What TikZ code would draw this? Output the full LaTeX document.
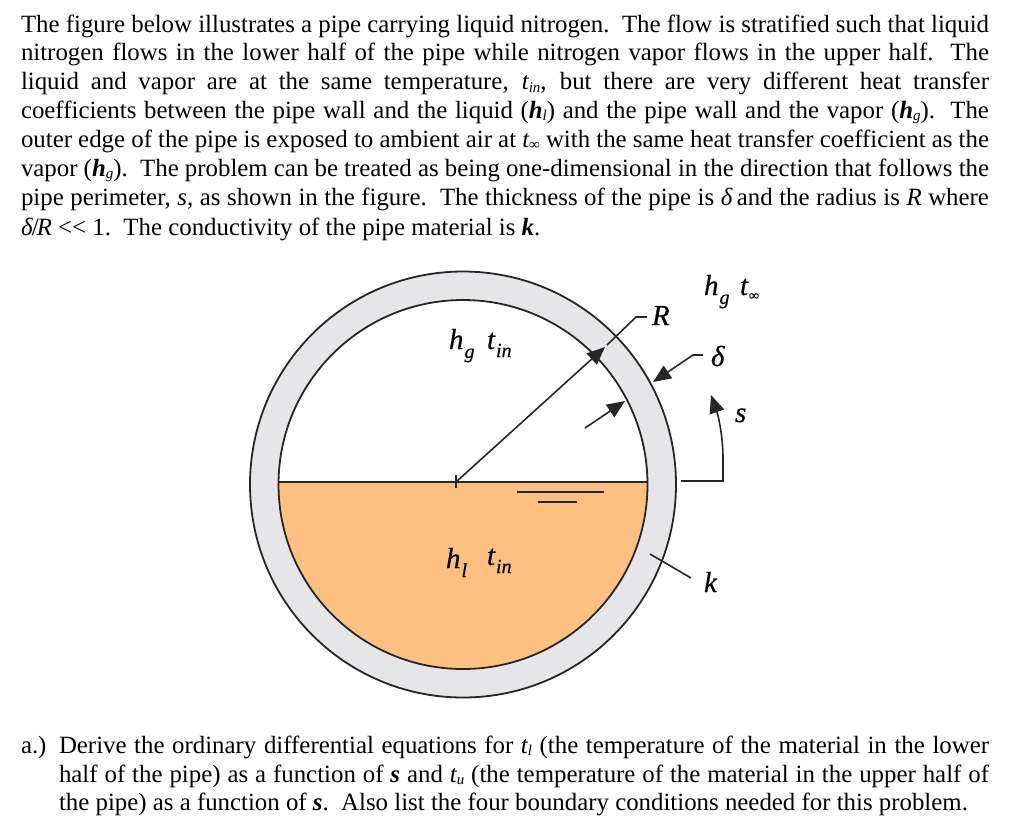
\documentclass[tikz,border=0pt]{standalone}
\usepackage{fontspec}
\setmainfont{Liberation Serif}
\newfontface\labface[FakeBold=0.5]{Liberation Serif Italic}
\usetikzlibrary{arrows.meta}
\definecolor{liquid}{RGB}{253,192,128}
\definecolor{wall}{RGB}{230,230,232}
\newcommand{\lowsub}[1]{\raisebox{-2.5pt}{\fontsize{15}{15}\selectfont #1}}
\newcommand{\tin}{\textit{t\lowsub{in}}}
\newcommand{\tinf}{\textit{t\lowsub{∞}}}
\newcommand{\hl}{\textbf{\textit{h}}\textit{\lowsub{l}}}
\newcommand{\hg}{\textbf{\textit{h}}\textit{\lowsub{g}}}
\newcommand{\fillline}[1]{\makebox[968pt][s]{#1}}
\newcommand{\subline}[1]{\makebox[930pt][s]{#1}}
\tikzset{
  x=1pt,y=-1pt,
  txt/.style={anchor=base west,inner sep=0pt,outer sep=0pt,font=\fontsize{24.85}{29}\selectfont},
  lab/.style={anchor=base west,inner sep=0pt,outer sep=0pt,font=\fontsize{29}{30}\labface},
  labsub/.style={anchor=base west,inner sep=0pt,outer sep=0pt,font=\fontsize{20}{20}\labface},
  pipe/.style={draw=black!85,line width=1.8pt},
  lead/.style={draw=black!85,line width=1.6pt},
  tip/.style={lead,-{Triangle[length=18pt,width=15pt]}}
}
\begin{document}
\begin{tikzpicture}
\useasboundingbox[fill=white] (0,0) rectangle (1024,820);
% text
\node[txt] (l1) at (21,32.5) {\fillline{The figure below illustrates a pipe carrying liquid nitrogen.\ \ The flow is stratified such that liquid}};
\node[txt] (l2) at (21,60.5) {\fillline{nitrogen flows in the lower half of the pipe while nitrogen vapor flows in the upper half.\ \ The}};
\node[txt] (l3) at (21,89.5) {\fillline{liquid and vapor are at the same temperature, \tin, but there are very different heat transfer}};
\node[txt] (l4) at (21,118) {\fillline{coefficients between the pipe wall and the liquid (\hl) and the pipe wall and the vapor (\hg).\ \ The}};
\node[txt] (l5) at (21,147) {\fillline{outer edge of the pipe is exposed to ambient air at \tinf{} with the same heat transfer coefficient as the}};
\node[txt] (l6) at (21,176) {\fillline{vapor (\hg).\ \ The problem can be treated as being one-dimensional in the direction that follows the}};
\node[txt] (l7) at (21,205.5) {\fillline{pipe perimeter, \textit{s}, as shown in the figure.\ \ The thickness of the pipe is \textit{δ}\,and the radius is \textit{R} where}};
\node[txt] (l8) at (21,235.5) {\textit{δ}\kern-1pt/\kern-2pt\textit{R} {<}{<} 1.\ \ The conductivity of the pipe material is \textbf{\textit{k}}.};
\node[txt] (a1) at (21,753) {a.)};
\node[txt] (a2) at (59,753) {\subline{Derive the ordinary differential equations for \textit{t\lowsub{l}} (the temperature of the material in the lower}};
\node[txt] (a3) at (59,782) {\subline{half of the pipe) as a function of \textbf{\textit{s}} and \textit{t\lowsub{u}} (the temperature of the material in the upper half of}};
\node[txt] (a4) at (59,810) {the pipe) as a function of \textbf{\textit{s}}.\ \ Also list the four boundary conditions needed for this problem.};
% pipe
\coordinate (c) at (463,484.5);
\fill[wall] (c) circle[radius=213];
\fill[white] (c) circle[radius=184.5];
\begin{scope}
\clip (c) circle[radius=184.5];
\fill[liquid] (270,482) rectangle (660,680);
\end{scope}
\draw[pipe] (c) circle[radius=213];
\draw[pipe] (c) circle[radius=184.5];
\coordinate (sl) at (279,482);
\coordinate (sr) at (647,482);
\draw[pipe] (sl) -- (sr);
% water level
\coordinate (w1a) at (517,492); \coordinate (w1b) at (604,492);
\coordinate (w2a) at (538,502); \coordinate (w2b) at (577,502);
\draw[lead] (w1a) -- (w1b);
\draw[lead] (w2a) -- (w2b);
% radius
\coordinate (ctr) at (456,482);
\coordinate (rt) at (605,347);
\coordinate (ta) at (456,475); \coordinate (tb) at (456,488);
\draw[lead] (ta) -- (tb);
\draw[tip] (ctr) -- (rt);
\coordinate (r1) at (607,345); \coordinate (r2) at (636,317); \coordinate (r3) at (647,317);
\draw[lead] (r1) -- (r2) -- (r3);
% delta
\coordinate (d1) at (703,355); \coordinate (d2) at (693,355); \coordinate (d3) at (653,382);
\draw[tip] (d1) -- (d2) -- (d3);
\coordinate (e1) at (585,428); \coordinate (e2) at (625,401);
\draw[tip] (e1) -- (e2);
% s
\coordinate (s1) at (681,481); \coordinate (s2) at (723,481); \coordinate (s3) at (711,395);
\draw[tip] (s1) -- (s2) -- ++(0,-22) .. controls (723,435) and (718,415) .. (s3);
% k
\coordinate (k1) at (650,554); \coordinate (k2) at (691,578);
\draw[lead] (k1) -- (k2);
% labels
\node[lab] (hg1) at (449,349) {h};
\node[labsub] (hg1s) at (464.5,358) {g};
\node[lab] (t1) at (487,349) {t};
\node[labsub] (t1s) at (496,357) {in};
\node[lab] (hg2) at (704,295) {h};
\node[labsub] (hg2s) at (719.5,304) {g};
\node[lab] (t2) at (740,295) {t};
\node[labsub] (t2s) at (749,300) {\fontsize{14}{14}\labface ∞};
\node[lab] (hl1) at (446,568) {h};
\node[labsub] (hl1s) at (461.5,577) {l};
\node[lab] (t3) at (487,565) {t};
\node[labsub] (t3s) at (496,573) {in};
\node[lab] (R) at (652,325) {R};
\node[lab] (dl) at (711,366) {δ};
\node[lab] (s) at (735,422) {s};
\node[lab] (k) at (704,592) {k};
\end{tikzpicture}
\end{document}
